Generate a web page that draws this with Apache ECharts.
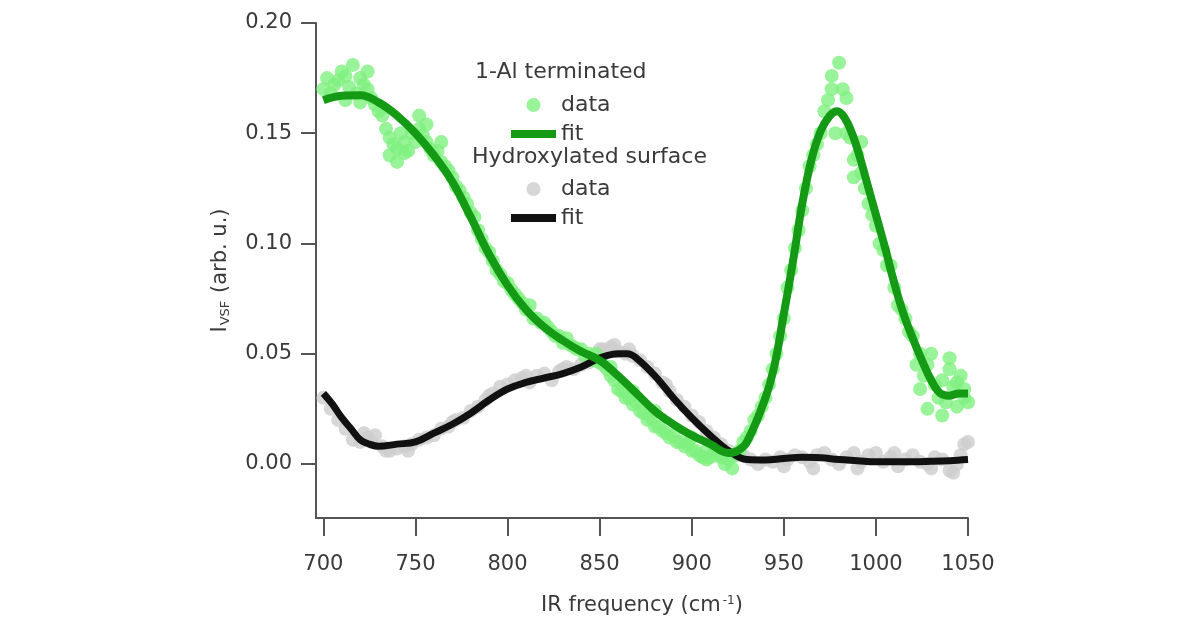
<!DOCTYPE html>
<html>
<head>
<meta charset="utf-8">
<script src="https://cdn.jsdelivr.net/npm/echarts@6/dist/echarts.min.js"></script>
<style>
	html, body { margin: 0; padding: 0; background: #fff; }
	#chart { width: 1200px; height: 630px; }
</style>
</head>
<body>
<div id="chart"></div>
<script>
// 1-Al terminated, measured points
const alDataX = [700, 704, 708, 712, 716, 720, 724, 728, 732, 736, 740, 744, 748, 752, 756, 760, 764, 768, 772, 776,
	780, 784, 788, 792, 796, 800, 804, 808, 812, 816, 820, 824, 828, 832, 836, 840, 844, 848, 852, 856,
	860, 864, 868, 872, 876, 880, 884, 888, 892, 896, 900, 904, 908, 912, 916, 920, 924, 928, 932, 936,
	940, 944, 948, 952, 956, 960, 964, 968, 972, 976, 980, 984, 988, 992, 996, 1000, 1004, 1008, 1012, 1016,
	1020, 1024, 1028, 1032, 1036, 1040, 1044, 1048,
	712, 720, 724, 736, 740, 744, 752, 756, 764, 848, 856, 868, 880, 900, 908, 922,
	976, 978, 984, 988, 992, 1024, 1028, 1036, 1040, 1044, 1048,
	702, 706, 710, 714, 718, 722, 726, 730, 734, 738, 742, 746, 750, 754, 758, 762, 766, 770, 774, 778,
	782, 786, 790, 794, 798, 802, 806, 810, 814, 818, 822, 826, 830, 834, 838, 842, 846, 850, 854, 858,
	862, 866, 870, 874, 878, 882, 886, 890, 894, 898, 902, 906, 910, 914, 918, 926, 930, 934, 938,
	942, 946, 950, 954, 958, 962, 966, 970, 974, 982, 986, 990, 994, 998, 1002, 1006, 1010, 1014, 1018,
	1022, 1026, 1030, 1034, 1038, 1042, 1046, 1050]
const alDataY = [0.170, 0.168, 0.174, 0.176, 0.181, 0.175, 0.170, 0.163, 0.158, 0.148, 0.143, 0.146, 0.150, 0.152, 0.146, 0.140, 0.137, 0.133, 0.126, 0.121,
	0.114, 0.106, 0.098, 0.092, 0.086, 0.082, 0.077, 0.073, 0.072, 0.066, 0.064, 0.060, 0.058, 0.057, 0.053, 0.052, 0.050, 0.047, 0.045, 0.040,
	0.034, 0.030, 0.027, 0.024, 0.020, 0.017, 0.015, 0.012, 0.010, 0.008, 0.006, 0.004, 0.006, 0.005, 0.003, 0.002, 0.004, 0.010, 0.015, 0.022,
	0.030, 0.043, 0.058, 0.080, 0.098, 0.115, 0.135, 0.145, 0.160, 0.170, 0.182, 0.150, 0.138, 0.132, 0.118, 0.108, 0.097, 0.090, 0.072, 0.066,
	0.058, 0.050, 0.045, 0.036, 0.038, 0.043, 0.037, 0.030,
	0.165, 0.164, 0.178, 0.140, 0.137, 0.141, 0.158, 0.154, 0.146, 0.050, 0.044, 0.033, 0.024, 0.012, 0.002, -0.002,
	0.176, 0.150, 0.166, 0.130, 0.146, 0.034, 0.025, 0.022, 0.048, 0.026, 0.034,
	0.175, 0.172, 0.178, 0.171, 0.168, 0.172, 0.166, 0.160, 0.152, 0.145, 0.150, 0.142, 0.146, 0.149, 0.143, 0.142, 0.135, 0.130, 0.124, 0.118,
	0.112, 0.102, 0.096, 0.088, 0.083, 0.079, 0.075, 0.070, 0.066, 0.064, 0.062, 0.058, 0.055, 0.054, 0.052, 0.049, 0.047, 0.046, 0.043, 0.038,
	0.033, 0.030, 0.028, 0.023, 0.021, 0.017, 0.014, 0.013, 0.010, 0.009, 0.006, 0.003, 0.003, 0.004, 0.000, 0.006, 0.012, 0.020, 0.026,
	0.036, 0.050, 0.066, 0.088, 0.106, 0.125, 0.140, 0.150, 0.165, 0.170, 0.148, 0.140, 0.125, 0.113, 0.100, 0.090, 0.080, 0.070, 0.060,
	0.045, 0.040, 0.050, 0.030, 0.028, 0.035, 0.040, 0.028]

// 1-Al terminated, fit
const alFitX = [700, 710, 720, 730, 740, 750, 760, 770, 780, 790, 800, 810, 820, 830, 840, 850, 860, 870, 880, 890,
	900, 910, 920, 925, 930, 940, 945, 950, 955, 960, 965, 970, 975, 979, 983, 987, 991, 995, 1000, 1005, 1010,
	1015, 1020, 1025, 1030, 1035, 1040, 1045, 1050]
const alFitY = [0.165, 0.167, 0.1672, 0.164, 0.158, 0.150, 0.140, 0.128, 0.112, 0.095, 0.081, 0.070, 0.062, 0.056, 0.051, 0.047, 0.040, 0.032, 0.024, 0.018,
	0.013, 0.009, 0.005, 0.006, 0.010, 0.030, 0.045, 0.068, 0.092, 0.118, 0.138, 0.151, 0.158, 0.160, 0.157, 0.150, 0.140, 0.128, 0.113, 0.098, 0.082,
	0.068, 0.057, 0.047, 0.038, 0.032, 0.031, 0.032, 0.032]

// Hydroxylated surface, measured points
const ohDataX = [700, 704, 708, 712, 716, 720, 724, 728, 732, 736, 740, 744, 748, 752, 756, 760, 764, 768, 772, 776,
	780, 784, 788, 792, 796, 800, 804, 808, 812, 816, 820, 824, 828, 832, 836, 840, 844, 848, 852, 856,
	860, 864, 868, 872, 876, 880, 884, 888, 892, 896, 900, 904, 908, 912, 916, 920, 924, 928, 932, 936,
	940, 944, 948, 952, 956, 960, 964, 968, 972, 976, 980, 984, 988, 992, 996, 1000, 1004, 1008, 1012, 1016,
	1020, 1024, 1028, 1032, 1036, 1040, 1044, 1048,
	722, 726, 734, 746, 770, 790, 810, 830, 850, 858, 866, 886, 950, 966, 990, 1010, 1030, 1042, 1046, 1050]
const ohDataY = [0.030, 0.025, 0.020, 0.016, 0.011, 0.010, 0.012, 0.013, 0.008, 0.006, 0.007, 0.008, 0.009, 0.011, 0.012, 0.013, 0.016, 0.017, 0.020, 0.021,
	0.024, 0.026, 0.029, 0.032, 0.035, 0.036, 0.038, 0.039, 0.037, 0.040, 0.041, 0.038, 0.042, 0.044, 0.043, 0.045, 0.046, 0.049, 0.052, 0.053,
	0.051, 0.050, 0.049, 0.047, 0.044, 0.041, 0.037, 0.033, 0.029, 0.026, 0.022, 0.019, 0.015, 0.012, 0.009, 0.006, 0.004, 0.004, 0.002, 0.000,
	0.002, 0.001, 0.003, 0.002, 0.004, 0.003, 0.001, 0.004, 0.005, 0.002, 0.000, 0.003, 0.005, 0.001, 0.004, 0.005, 0.001, 0.003, -0.001, 0.002,
	0.004, 0.001, 0.000, 0.003, 0.002, -0.003, 0.000, 0.009,
	0.014, 0.010, 0.006, 0.006, 0.019, 0.031, 0.040, 0.043, 0.052, 0.054, 0.052, 0.036, -0.001, -0.002, -0.002, 0.005, -0.002, -0.004, 0.004, 0.010]

// Hydroxylated surface, fit
const ohFitX = [700, 705, 710, 715, 720, 725, 730, 740, 750, 760, 770, 780, 790, 800, 810, 820, 830, 840, 850, 860,
	865, 870, 880, 890, 900, 910, 920, 930, 940, 950, 960, 970, 980, 990, 1000, 1010, 1020, 1030, 1040, 1050]
const ohFitY = [0.032, 0.027, 0.021, 0.016, 0.011, 0.009, 0.008, 0.009, 0.010, 0.014, 0.018, 0.023, 0.029, 0.034, 0.037, 0.039, 0.041, 0.044, 0.048, 0.050,
	0.050, 0.048, 0.040, 0.030, 0.021, 0.013, 0.006, 0.002, 0.0018, 0.0025, 0.003, 0.0028, 0.002, 0.0015, 0.001, 0.001, 0.001, 0.0012, 0.0015, 0.002]

const xTicks = [700, 750, 800, 850, 900, 950, 1000, 1050]
const yTicks = [0, 0.05, 0.10, 0.15, 0.20]

function pairs(xs, ys) {
	const out = []
	for (let i = 0; i < xs.length; i++) out.push([xs[i], ys[i]])
	return out
}

const FONT = 'DejaVu Sans'
const TXT = '#3a3a3a'
const AXIS = '#555'

var myChart = echarts.init(document.getElementById('chart'))

var option = {
	animation: false,
	textStyle: { fontFamily: FONT },
	grid: { left: 316, right: 232, top: 23, bottom: 112 },
	xAxis: {
		type: 'value',
		min: 696,
		max: 1050,
		name: 'IR frequency (cm{sup|-1})',
		nameLocation: 'middle',
		nameGap: 77,
		nameTextStyle: {
			color: TXT, fontSize: 21, fontFamily: FONT,
			rich: { sup: { fontSize: 12, verticalAlign: 'top', padding: [0, 0, 10, 2], color: TXT, fontFamily: FONT } }
		},
		splitLine: { show: false },
		axisLine: { show: true, onZero: false, lineStyle: { color: AXIS, width: 2 } },
		axisTick: { show: true, customValues: xTicks, length: 18, lineStyle: { color: AXIS, width: 2 } },
		axisLabel: {
			customValues: xTicks, margin: 36, fontSize: 21, color: TXT, fontFamily: FONT,
			formatter: function(v) { return String(v) }
		}
	},
	yAxis: {
		type: 'value',
		min: -0.0245,
		max: 0.20,
		name: 'I{sub|VSF} (arb. u.)',
		nameLocation: 'middle',
		nameGap: 84,
		nameMoveOverlap: false,
		nameTextStyle: {
			color: TXT, fontSize: 21, fontFamily: FONT,
			rich: { sub: { fontSize: 13, verticalAlign: 'bottom', padding: [10, 1, 0, 1], color: TXT, fontFamily: FONT } }
		},
		splitLine: { show: false },
		axisLine: { show: true, onZero: false, lineStyle: { color: AXIS, width: 2 } },
		axisTick: { show: true, customValues: yTicks, length: 15, lineStyle: { color: AXIS, width: 2 } },
		axisLabel: {
			customValues: yTicks, margin: 24, fontSize: 21, color: TXT, fontFamily: FONT,
			formatter: function(v) { return v.toFixed(2) }
		}
	},
	graphic: [
		{ type: 'text', left: 475, top: 61, style: { text: '1-Al terminated', fill: TXT, font: '22px "DejaVu Sans"' } },
		{ type: 'text', left: 472, top: 146, style: { text: 'Hydroxylated surface', fill: TXT, font: '22px "DejaVu Sans"' } }
	],
	legend: [{
		orient: 'vertical',
		left: 506,
		top: 89,
		itemWidth: 45,
		itemHeight: 14,
		itemGap: 7,
		selectedMode: false,
		textStyle: { color: TXT, fontSize: 22, fontFamily: FONT },
		formatter: function(n) { return n.indexOf('fit') >= 0 ? 'fit' : 'data' },
		data: [
			{ name: 'Al data', icon: 'circle' },
			{ name: 'Al fit', icon: 'path://M0,0H45V8H0Z' }
		]
	}, {
		orient: 'vertical',
		left: 506,
		top: 173,
		itemWidth: 45,
		itemHeight: 14,
		itemGap: 7,
		selectedMode: false,
		textStyle: { color: TXT, fontSize: 22, fontFamily: FONT },
		formatter: function(n) { return n.indexOf('fit') >= 0 ? 'fit' : 'data' },
		data: [
			{ name: 'OH data', icon: 'circle' },
			{ name: 'OH fit', icon: 'path://M0,0H45V8H0Z' }
		]
	}],
	series: [{
		name: 'OH data',
		type: 'scatter',
		symbolSize: 14,
		itemStyle: { color: '#cdcdcd' },
		data: pairs(ohDataX, ohDataY),
		z: 1
	}, {
		name: 'Al data',
		type: 'scatter',
		symbolSize: 14,
		itemStyle: { color: '#80f080' },
		data: pairs(alDataX, alDataY),
		z: 2
	}, {
		name: 'OH fit',
		type: 'line',
		smooth: 0.4,
		showSymbol: false,
		lineStyle: { color: '#111', width: 7 },
		itemStyle: { color: '#111' },
		data: pairs(ohFitX, ohFitY),
		z: 3
	}, {
		name: 'Al fit',
		type: 'line',
		smooth: 0.4,
		showSymbol: false,
		lineStyle: { color: '#149a14', width: 8 },
		itemStyle: { color: '#149a14' },
		data: pairs(alFitX, alFitY),
		z: 4
	}]
}

myChart.setOption(option)
</script>
</body>
</html>
